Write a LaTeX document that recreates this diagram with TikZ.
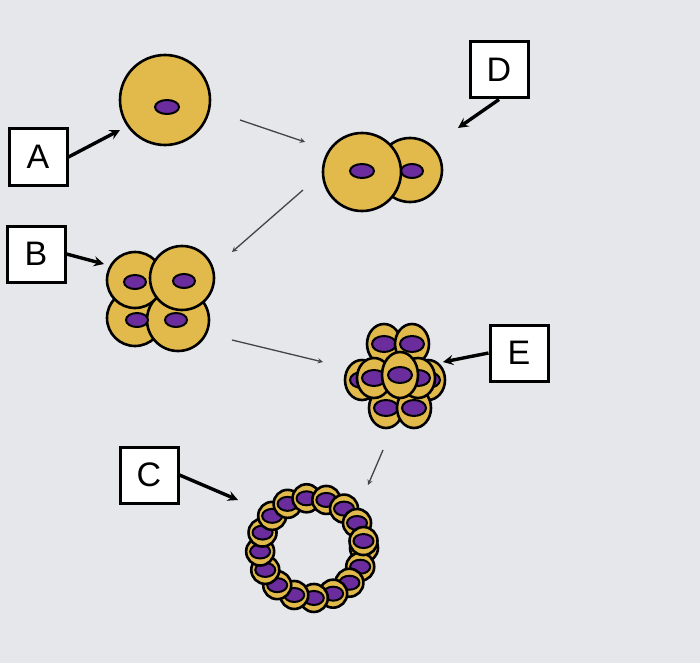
\documentclass[tikz,border=0pt]{standalone}
\usepackage{fontspec}
\setmainfont{Liberation Sans}
\begin{document}
\begin{tikzpicture}[x=1pt,y=-1pt,
  cellc/.style={draw=black,line width=2.6pt,fill=cellyel},
  nuc/.style={draw=black,line width=2pt,fill=nucpur},
  lbl/.style={draw=black,line width=3pt,fill=white,minimum width=58pt,minimum height=56pt,font=\fontsize{34}{34}\selectfont},
  thin/.style={->,draw=arrgray,line width=1.3pt,>=stealth},
  thick/.style={-stealth,draw=black,line width=3.4pt}]
\definecolor{cellyel}{HTML}{E2BA4C}
\definecolor{nucpur}{HTML}{6B2D9E}
\definecolor{arrgray}{HTML}{444444}
\definecolor{bg}{HTML}{E6E7EB}
\fill[bg] (0,0) rectangle (700,663);
\useasboundingbox (0,0) rectangle (700,663);
% cell 1
\node[cellc,circle,minimum size=90pt,inner sep=0] (z) at (165,100) {};
\draw[nuc] (167,107) ellipse (12 and 7);
% two cells
\node[cellc,circle,minimum size=64pt,inner sep=0] (t2) at (410,170) {};
\draw[nuc] (412,171) ellipse (11 and 7);
\node[cellc,circle,minimum size=78pt,inner sep=0] (t1) at (362,172) {};
\draw[nuc] (362,171) ellipse (12 and 7);
% four cells
\draw[cellc] (135,318) circle (28);
\draw[cellc] (178,320) circle (31);
\draw[cellc] (135,280) circle (28);
\draw[cellc] (182,278) circle (32);
\foreach \x/\y in {135/282,184/281,137/320,176/320}{\draw[nuc] (\x,\y) ellipse (11 and 7);}
% morula
\foreach \x/\y in {384/344/,412/344,362/380,428/380,386/408,414/408,374/378,418/378}{
  \draw[cellc] (\x,\y) ellipse (17 and 20);
  \draw[nuc] (\x,\y) ellipse (12 and 8);}
\draw[cellc] (400,375) ellipse (18 and 23);
\draw[nuc] (400,375) ellipse (12 and 8);
% blastula
\foreach \a in {0,22,...,359}{
  \draw[cellc] ({312+52*cos(\a)},{548+50*sin(\a)}) circle (14);
  \draw[nuc] ({312+52*cos(\a)},{548+50*sin(\a)}) ellipse (10 and 7);}
% labels
\node[lbl] (A) at (38,157) {A};
\node[lbl] (B) at (36,254) {B};
\node[lbl] (C) at (149,475) {C};
\node[lbl] (D) at (499,70) {D};
\node[lbl] (E) at (519,353) {E};
\draw[thick] (A.east) -- (120,130);
\draw[thick] (B.east) -- (104,264);
\draw[thick] (C.east) -- (238,500);
\draw[thick] (D.south) -- (458,128);
\draw[thick] (E.west) -- (443,362);
% sequence arrows
\draw[thin] (240,120) -- (305,142);
\draw[thin] (303,190) -- (232,252);
\draw[thin] (232,340) -- (323,362);
\draw[thin] (383,450) -- (368,485);
\end{tikzpicture}
\end{document}
